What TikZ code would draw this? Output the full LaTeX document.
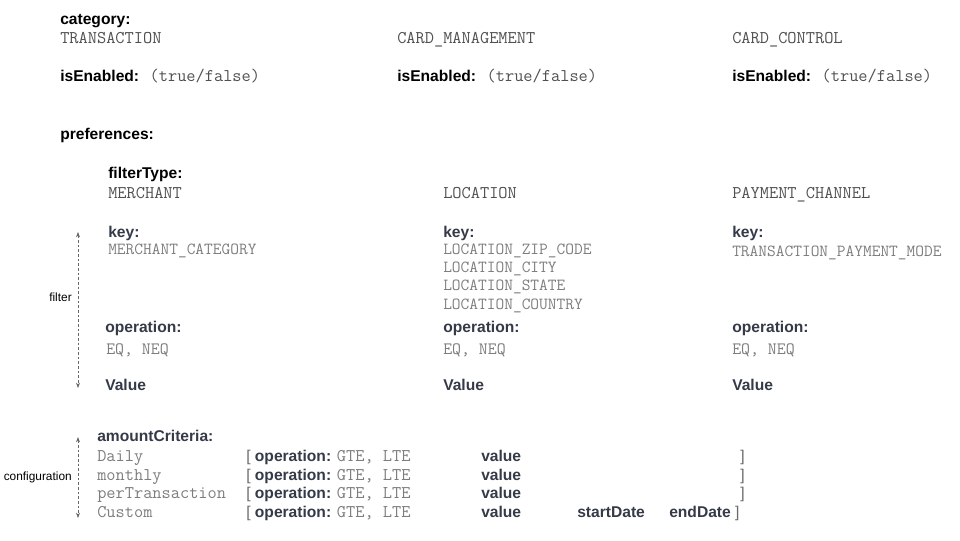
\documentclass[tikz,border=0pt]{standalone}
\usepackage{fontspec}
\setmainfont{Liberation Sans}
\usepackage{tikz}
\usetikzlibrary{arrows.meta}
\definecolor{slate}{RGB}{52,58,72}
\definecolor{midgray}{RGB}{80,80,80}
\definecolor{ltgray}{RGB}{125,125,125}
\definecolor{dimgray}{RGB}{105,105,105}
\tikzset{>={Stealth[length=4pt,width=3pt]}}
\tikzset{%
    every node/.style={anchor=base west, inner sep=0pt},
    head/.style={font=\fontsize{11.7}{14}\selectfont\bfseries, text=black},
    field/.style={font=\fontsize{11.7}{14}\selectfont\bfseries, text=slate},
    enum/.style={font=\fontsize{13.4}{15}\selectfont\ttfamily, text=midgray},
    keyval/.style={font=\fontsize{12.7}{15}\selectfont\ttfamily, text=ltgray},
    opval/.style={font=\fontsize{13}{15}\selectfont\ttfamily, text=ltgray},
    period/.style={font=\fontsize{13.4}{15}\selectfont\ttfamily, text=ltgray},
    side/.style={font=\fontsize{8.9}{10}\selectfont, text=black, anchor=east},
    span/.style={<->, draw=dimgray, dash pattern=on 2pt off 1.5pt, line width=0.5pt}
}
\newcommand{\oprange}{{\mdseries\color{dimgray}[} operation: {\fontsize{13.4}{15}\selectfont\mdseries\ttfamily\color{ltgray}GTE, LTE}}
\newcommand{\closebr}{{\mdseries\color{dimgray}]}}

\begin{document}
\begin{tikzpicture}[x=0.75pt, y=-0.75pt]
    \useasboundingbox (0,0) rectangle (960,540);

    \node[head] (cat) at (60,24) {category:};
    \node[enum] (tx) at (60,43) {TRANSACTION};
    \node[enum] (cm) at (397,43) {CARD\_MANAGEMENT};
    \node[enum] (cc) at (732,43) {CARD\_CONTROL};

    \node[head] (en1) at (60,81) {isEnabled:};
    \node[head] (en2) at (397,81) {isEnabled:};
    \node[head] (en3) at (732,81) {isEnabled:};
    \node[enum] (tf1) at ([xshift=7.5pt]en1.base east) {(true/false)};
    \node[enum] (tf2) at ([xshift=7.5pt]en2.base east) {(true/false)};
    \node[enum] (tf3) at ([xshift=7.5pt]en3.base east) {(true/false)};

    \node[head] (pref) at (60,139) {preferences:};

    \node[head] (ft) at (108,178) {filterType:};
    \node[enum] (ftm) at (108,198) {MERCHANT};
    \node[enum] (ftl) at (443,198) {LOCATION};
    \node[enum] (ftp) at (732,198) {PAYMENT\_CHANNEL};

    \node[field] (km) at (108,237) {key:};
    \node[field] (kl) at (443,237) {key:};
    \node[field] (kp) at (732,237) {key:};
    \node[keyval] (km1) at (108,254) {MERCHANT\_CATEGORY};
    \node[keyval] (kl1) at (443,254) {LOCATION\_ZIP\_CODE};
    \node[keyval] (kl2) at (443,272.3) {LOCATION\_CITY};
    \node[keyval] (kl3) at (443,290.6) {LOCATION\_STATE};
    \node[keyval] (kl4) at (443,309) {LOCATION\_COUNTRY};
    \node[keyval] (kp1) at (732,256) {TRANSACTION\_PAYMENT\_MODE};

    \node[field] (om) at (105,332) {operation:};
    \node[field] (ol) at (443,332) {operation:};
    \node[field] (op) at (732,332) {operation:};
    \node[opval] (om1) at (106,354) {EQ, NEQ};
    \node[opval] (ol1) at (443,354) {EQ, NEQ};
    \node[opval] (op1) at (732,354) {EQ, NEQ};

    \node[field] (vm) at (105,390) {Value};
    \node[field] (vl) at (443,390) {Value};
    \node[field] (vp) at (732,390) {Value};

    \coordinate (fTop) at (78,232);
    \coordinate (fBot) at (78,388);
    \draw[span] (fTop) -- (fBot);
    \node[side] (flt) at (72,297) {filter};

    \node[field] (amt) at (97,441) {amountCriteria:};
    \node[period] (d) at (97,461.5) {Daily};
    \node[period] (m) at (97,480) {monthly};
    \node[period] (p) at (97,498.5) {perTransaction};
    \node[period] (c) at (97,517) {Custom};

    \node[field] (dop) at (246,461.5) {\oprange};
    \node[field] (mop) at (246,480) {\oprange};
    \node[field] (pop) at (246,498.5) {\oprange};
    \node[field] (cop) at (246,517) {\oprange};

    \node[field] (dv) at (481,461.5) {value};
    \node[field] (mv) at (481,480) {value};
    \node[field] (pv) at (481,498.5) {value};
    \node[field] (cv) at (481,517) {value};

    \node[field] (cs) at (577,517) {startDate};
    \node[field] (ce) at (669,517) {endDate \closebr};
    \node[field] (dbr) at (740,461.5) {\closebr};
    \node[field] (mbr) at (740,480) {\closebr};
    \node[field] (pbr) at (740,498.5) {\closebr};

    \coordinate (cTop) at (78,437);
    \coordinate (cBot) at (78,518);
    \draw[span] (cTop) -- (cBot);
    \node[side] (cfg) at (72,477) {configuration};

\end{tikzpicture}
\end{document}
